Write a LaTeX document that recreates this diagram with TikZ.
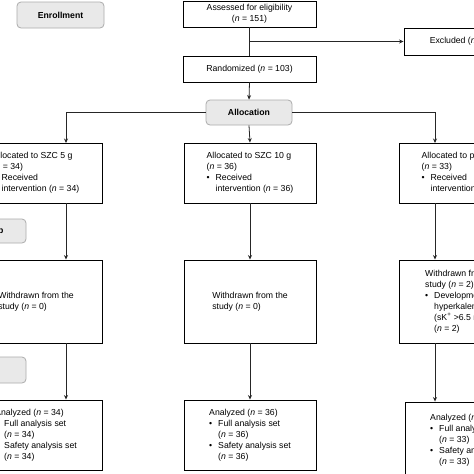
\documentclass[tikz,border=0pt]{standalone}
\usepackage{fontspec}
\setmainfont{Liberation Sans}
\usetikzlibrary{arrows.meta}
\newcommand\dfont{\fontsize{8.7}{11}\selectfont}
\newcommand\bul{\makebox[9pt][l]{\textbullet}}
\newcommand\bulind{\hspace*{9pt}}
\newcommand\nn{\textit{n}}
\tikzset{
  box/.style={draw=black, line width=0.9pt, rectangle, inner sep=0pt, align=left, font=\dfont, fill=white, minimum width=132pt},
  gbox/.style={draw=gray!65, fill=gray!17, rounded corners=4pt, line width=0.8pt, inner sep=0pt, font=\dfont\bfseries, minimum width=86pt},
  conn/.style={line width=0.8pt, draw=black!85},
  arr/.style={conn, -{Stealth[length=4.5pt,width=4pt]}},
}
\begin{document}
\begin{tikzpicture}[x=1pt,y=-1pt]
\useasboundingbox (0,0) rectangle (474,474);
\clip (0,0) rectangle (474,474);
\fill[white] (0,0) rectangle (474,474);

% stage labels
\node[gbox, minimum width=87pt, minimum height=26pt] (enr) at (60.5,15) {Enrollment};
\node[gbox, minimum height=25pt] (alc) at (249,112.5) {Allocation};
\node[gbox, minimum height=24pt] (fu) at (-17,231) {Follow-up};
\node[gbox, minimum height=26pt] (an) at (-17,370) {};

% enrollment
\node[box, align=center, minimum width=133pt, minimum height=26pt] (ass) at (249.5,14) {Assessed for eligibility\\(\nn{} = 151)};
\node[box, minimum width=120pt, minimum height=27pt] (exc) at (464,41.5) {Excluded (\nn{} = 48)};
\node[box, minimum width=133pt, minimum height=26pt] (ran) at (249.5,69) {Randomized (\nn{} = 103)};

% allocation row
\node[box, minimum height=60pt] (a1) at (36,173) {Allocated to SZC 5 g\\(\nn{} = 34)\\\bul Received\\\bulind intervention (\nn{} = 34)};
\node[box, minimum height=60pt] (a2) at (250,173) {Allocated to SZC 10 g\\(\nn{} = 36)\\\bul Received\\\bulind intervention (\nn{} = 36)};
\node[box, minimum height=60pt] (a3) at (465,173) {Allocated to placebo\\(\nn{} = 33)\\\bul Received\\\bulind intervention (\nn{} = 33)};

% follow-up row
\node[box, minimum height=83pt] (w1) at (36,301.5) {Withdrawn from the\\study (\nn{} = 0)};
\node[box, minimum height=83pt] (w2) at (250,301.5) {Withdrawn from the\\study (\nn{} = 0)};
\node[box, minimum height=83pt] (w3) at (465,301.5) {Withdrawn from the\\study (\nn{} = 2)\\\bul Development of\\\bulind hyperkalemia\\\bulind (sK\textsuperscript{+} >6.5 mmol/L)\\\bulind (\nn{} = 2)};

% analysis row
\node[box, minimum height=70pt] (n1) at (36,435) {Analyzed (\nn{} = 34)\\\bul Full analysis set\\\bulind (\nn{} = 34)\\\bul Safety analysis set\\\bulind (\nn{} = 34)};
\node[box, minimum height=70pt] (n2) at (250,435) {Analyzed (\nn{} = 36)\\\bul Full analysis set\\\bulind (\nn{} = 36)\\\bul Safety analysis set\\\bulind (\nn{} = 36)};
\node[box, minimum height=76pt] (n3) at (471,440) {Analyzed (\nn{} = 33)\\\bul Full analysis set\\\bulind (\nn{} = 33)\\\bul Safety analysis set\\\bulind (\nn{} = 33)};

% column coordinates
\coordinate (c1) at (66,143);
\coordinate (c3) at (435,143);

% connectors
\draw[conn] (ass.south) -- (ran.north);
\draw[arr] (ass.south |- exc.west) -- (exc.west);
\draw[arr] (ran.south) -- (alc.north);
\draw[arr] (alc.west) -| (c1);
\draw[arr] (alc.east) -| (c3);
\draw[arr] (alc.south) -- (a2.north);

\draw[arr] (c1 |- a1.south) -- (c1 |- w1.north);
\draw[arr] (a2.south) -- (w2.north);
\draw[arr] (c3 |- a3.south) -- (c3 |- w3.north);

\draw[arr] (c1 |- w1.south) -- (c1 |- n1.north);
\draw[arr] (w2.south) -- (n2.north);
\draw[arr] (c3 |- w3.south) -- (c3 |- n3.north);
\end{tikzpicture}
\end{document}
